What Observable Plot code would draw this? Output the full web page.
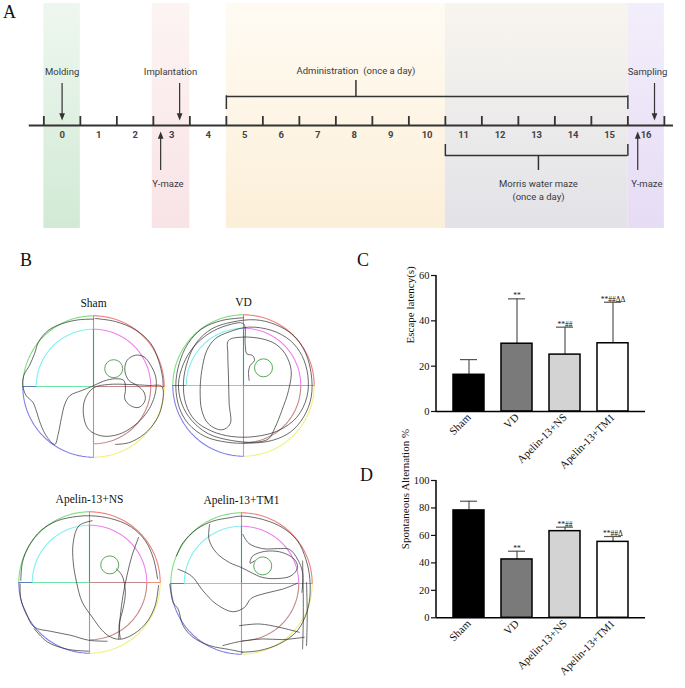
<!DOCTYPE html>
<html><head><meta charset="utf-8">
<script src="https://cdn.jsdelivr.net/npm/d3@7"></script>
<script src="https://cdn.jsdelivr.net/npm/@observablehq/plot@0.6"></script>
<style>
html,body{margin:0;padding:0;background:#fff;overflow:hidden;}
#fig{position:relative;width:685px;height:688px;overflow:hidden;}
.box{position:absolute;}
.box svg{max-width:none;}
.plabel{position:absolute;font-family:"Liberation Serif","Times New Roman",serif;font-size:18px;line-height:1;color:#111;}
</style></head><body><div id="fig"></div>
<script>
// ---------- Panel A data ----------
const days = [0,1,2,3,4,5,6,7,8,9,10,11,12,13,14,15,16];
const bands = [
  {id:"molding", start:-0.5, end:0.5},
  {id:"implant", start:2.47, end:3.5},
  {id:"admin", start:4.5, end:10.5},
  {id:"mwm", start:10.5, end:15.5},
  {id:"sampling", start:15.5, end:16.5}
];
const events = [
  {label:"Molding", labelDay:0, arrowDay:0, dir:"down"},
  {label:"Implantation", labelDay:2.97, arrowDay:3.22, dir:"down"},
  {label:"Sampling", labelDay:16.04, arrowDay:16.23, dir:"down"},
  {label:"Y-maze", labelDay:2.9, arrowDay:2.7, dir:"up"},
  {label:"Y-maze", labelDay:16.02, arrowDay:15.77, dir:"up"}
];
const brackets = [
  {label:"Administration  (once a day)", start:4.5, end:15.5, labelDay:8.05},
  {label:"Morris water maze\n(once a day)", start:10.5, end:15.5, labelDay:13.05}
];

// ---------- Panel B data (tracking coordinates, camera px) ----------
const poolNames = ["Sham","VD","Apelin-13+NS","Apelin-13+TM1"];
const poolCalib = [
  {cx:235, cy:228, r:210},
  {cx:235, cy:225, r:212},
  {cx:237, cy:231, r:213},
  {cx:236, cy:233, r:213}
];
const platforms = [[28.6,25.2],[28.3,25],[28.6,24.9],[30,24.9]];
const trackSham = [
  [[235,28],[190,30],[140,42],[100,62],[72,95],[60,130],[45,165],[28,195],[25,225],[35,255],[55,275],[65,300],[78,340],[95,375],[120,400],[130,370],[140,320],[150,280],[165,255],[200,240],[230,228],[265,212],[300,205],[325,210],[330,235],[328,265],[345,285],[370,290],[388,270],[385,245],[365,225],[340,210],[328,180],[335,150],[360,135],[385,140],[405,165],[420,200],[420,240],[410,275],[390,310],[355,345],[310,370],[260,375],[220,355],[205,310],[210,265],[235,232],[280,222],[340,222],[400,225],[438,228],[438,285],[420,330],[385,370],[340,395],[300,400]],
  [[240,26],[300,35],[360,60],[405,100],[428,150],[440,200],[442,230]]
];
const trackVD = [
  [[235,22],[170,30],[110,55],[68,100],[42,160],[32,225],[42,290],[70,340],[120,378],[185,395],[250,398],[320,390],[375,365],[415,320],[438,260],[438,190],[420,125],[385,75],[330,42],[270,28],[200,35],[140,55],[95,95],[68,150],[55,215],[62,280],[90,330],[140,362],[200,378],[270,378],[340,360],[395,320],[425,260],[428,195],[410,135],[375,90],[320,60],[250,50],[190,65],[150,85],[125,120],[110,180],[105,240],[110,300],[130,340],[170,358],[195,340],[192,280],[190,200],[188,130],[190,90],[230,80],[290,85],[330,100],[360,130],[378,180],[370,240],[350,300],[330,350],[310,385],[270,395],[200,390],[130,370],[80,330],[50,280],[40,220],[55,160],[85,110],[130,70],[185,45],[235,40],[240,100],[245,130],[262,135],[268,150],[255,165],[250,185],[252,210]]
];
const trackNS = [
  [[30,225],[35,170],[55,120],[90,75],[140,45],[200,32],[240,30],[300,38],[360,62],[405,105],[430,160],[442,220]],
  [[245,45],[205,60],[188,110],[188,170],[198,230],[215,290],[245,335],[275,375],[300,395],[330,402],[372,385],[410,350],[435,300],[445,240]],
  [[318,190],[335,210],[345,260],[338,310],[326,360],[330,400]],
  [[385,95],[365,150],[350,210],[338,270],[330,330],[325,400]],
  [[28,235],[30,280],[45,320],[70,365],[120,378],[180,390],[235,405],[290,408]],
  [[70,370],[110,410],[170,432],[235,438]]
];
const trackTM1 = [
  [[40,150],[60,110],[100,70],[150,45],[200,35],[237,30],[300,40],[360,65],[405,105],[430,160],[442,220],[440,290],[425,340],[400,380],[350,415],[290,435],[237,440]],
  [[140,55],[138,100],[160,140],[200,170],[236,185],[265,200],[300,215],[345,218],[385,210],[405,185],[395,160],[360,140],[320,135],[290,140],[268,152],[262,172],[275,165]],
  [[240,85],[258,112],[300,128],[345,128],[380,130],[405,160],[420,200],[418,260]],
  [[45,190],[85,210],[120,255],[160,295],[210,318],[245,305],[265,278],[310,262],[360,250],[405,232]],
  [[420,165],[422,260],[422,350],[420,430]],
  [[432,230],[434,330],[432,420]],
  [[230,360],[290,355],[350,365],[410,380]],
  [[180,420],[230,408],[300,400],[360,402],[425,395]],
  [[20,235],[30,290],[45,310],[60,360],[90,395],[140,420],[200,432],[240,440]]
];
const tracks = [trackSham, trackVD, trackNS, trackTM1];

// ---------- Panels C & D data ----------
const groups = ["Sham","VD","Apelin-13+NS","Apelin-13+TM1"];
const latencyMean = [16.2, 29.9, 25.1, 30.1];
const latencySD = [6.7, 19.8, 12.1, 18.1];
const latencySig = ["", "**", "**##", "**##ΔΔ"];
const altMean = [78.2, 42.5, 63.1, 55.3];
const altSD = [6.7, 6.0, 2.9, 3.9];
const altSig = ["", "**", "**##", "**##Δ"];
const latencyTicks = [0,20,40,60];
const altTicks = [0,20,40,60,80,100];

// ---------- styles ----------
const bandColors = {molding:["#eef7ef","#d2ead5"], implant:["#fdf4f4","#f8e3e6"], admin:["#fffbf3","#fcefd8"], mwm:["#f8f5ef","#e2e2e7"], sampling:["#f3eefb","#e6dcf4"]};
const barFill = ["#000000","#7a7a7a","#d3d3d3","#ffffff"];
const serif = '"Liberation Serif","Times New Roman",serif';
const fig = document.getElementById("fig");

function place(node, left, top, w) {
  const d = document.createElement("div");
  d.className = "box"; d.style.left = left + "px"; d.style.top = top + "px"; d.style.width = w + "px";
  d.appendChild(node); fig.appendChild(d);
}
function label(t, left, top) {
  const d = document.createElement("div");
  d.className = "plabel"; d.textContent = t; d.style.left = left + "px"; d.style.top = top + "px";
  fig.appendChild(d);
}

// ---------- Panel A ----------
const downTri = {draw(ctx, size){ const h = Math.sqrt(size/Math.PI); ctx.moveTo(-h*1.1,-h*1.4); ctx.lineTo(h*1.1,-h*1.4); ctx.lineTo(0,h*1.4); ctx.closePath(); }};
const upTri = {draw(ctx, size){ const h = Math.sqrt(size/Math.PI); ctx.moveTo(-h*1.1,h*1.4); ctx.lineTo(h*1.1,h*1.4); ctx.lineTo(0,-h*1.4); ctx.closePath(); }};
const defsMark = () => {
  const defs = d3.create("svg:defs");
  bands.forEach(b => {
    const g = defs.append("linearGradient").attr("id","band-"+b.id).attr("x1",0).attr("y1",0).attr("x2",0).attr("y2",1);
    g.append("stop").attr("offset","0%").attr("stop-color",bandColors[b.id][0]);
    g.append("stop").attr("offset","100%").attr("stop-color",bandColors[b.id][1]);
  });
  return defs.node();
};
const tickDays = [...days.map(d => d - 0.5), days[days.length-1] + 0.5];
const down = events.filter(e => e.dir === "down"), up = events.filter(e => e.dir === "up");
const admin = brackets[0], mwm = brackets[1];
const ink = "#333";
const A = Plot.plot({
  width:685, height:232, margin:0,
  x:{domain:[-1.6877, 17.079], axis:null},
  y:{domain:[232,0], axis:null},
  style:{background:"transparent", overflow:"visible", fontFamily:"Roboto, 'Liberation Sans', sans-serif", fontSize:"9.5px", color:"#3a3a3a"},
  marks:[
    defsMark,
    ...bands.map(b => Plot.rect([b], {x1:"start", x2:"end", y1:3, y2:228, fill:`url(#band-${b.id})`})),
    Plot.ruleY([0], {x1:-0.9, x2:16.75, y:125, stroke:ink, strokeWidth:2.2}),
    Plot.ruleX(tickDays, {x:d=>d, y1:116, y2:125, stroke:ink, strokeWidth:1.8}),
    Plot.text(days, {x:d=>d, y:134, text:d=>String(d), fontSize:9.5, fontWeight:700, fill:"#444"}),
    Plot.ruleX(down, {x:"arrowDay", y1:83, y2:115, stroke:ink, strokeWidth:1.2}),
    Plot.dot(down, {x:"arrowDay", y:116.4, symbol:downTri, r:2.6, fill:ink, stroke:null}),
    Plot.text(down, {x:"labelDay", y:71, text:"label", fill:"#3a3a3a"}),
    Plot.ruleX(up, {x:"arrowDay", y1:170, y2:136, stroke:ink, strokeWidth:1.2}),
    Plot.dot(up, {x:"arrowDay", y:134.6, symbol:upTri, r:2.6, fill:ink, stroke:null}),
    Plot.text(up, {x:"labelDay", y:183, text:"label", fill:"#3a3a3a"}),
    Plot.ruleY([admin], {x1:"start", x2:"end", y:96, stroke:ink, strokeWidth:1.5}),
    Plot.ruleX([admin.start, admin.end], {x:d=>d, y1:95.3, y2:109, stroke:ink, strokeWidth:1.5}),
    Plot.ruleX([admin], {x:"labelDay", y1:80, y2:96, stroke:ink, strokeWidth:1.5}),
    Plot.text([admin], {x:"labelDay", y:70, text:"label", fill:"#3a3a3a"}),
    Plot.ruleY([mwm], {x1:"start", x2:"end", y:155, stroke:ink, strokeWidth:1.5}),
    Plot.ruleX([mwm.start, mwm.end], {x:d=>d, y1:144, y2:155.7, stroke:ink, strokeWidth:1.5}),
    Plot.ruleX([mwm], {x:"labelDay", y1:155, y2:170, stroke:ink, strokeWidth:1.5}),
    Plot.text([mwm], {x:"labelDay", y:188.5, text:"label", lineHeight:1.35, fill:"#3a3a3a"})
  ]
});
place(A, 0, 0, 685);

// ---------- Panel B ----------
function arcPts(r, a0, a1) { const p = []; for (let a = a0; a <= a1 + 1e-9; a += 3) p.push([r*Math.cos(a*Math.PI/180), r*Math.sin(a*Math.PI/180)]); return p; }
const RIN = 81;
const ringMarks = [
  [100, 90, 180, "#80e080"], [100, 0, 90, "#f08080"], [100, 180, 270, "#8080ec"], [100, 270, 360, "#f0f080"],
  [RIN, 90, 180, "#80f0f0"], [RIN, 0, 90, "#f080f0"], [RIN, 270, 360, "#c48888"]
].map(([r,a0,a1,c]) => Plot.line(arcPts(r,a0,a1), {stroke:c, strokeWidth:1.1}));
const spokeMarks = [
  [[-100,0],[-RIN,0],"#5a80b8"], [[-RIN,0],[0,0],"#70e6a6"],
  [[0,0],[RIN,0],"#c48a8a"], [[RIN,0],[100,0],"#f0907c"],
  [[0,0],[0,RIN],"#2f9c8c"], [[0,RIN],[0,100],"#e08484"],
  [[0,0],[0,-RIN],"#c09090"], [[0,-RIN],[0,-100],"#a4a4d8"]
].map(([p,q,c]) => Plot.line([p,q], {stroke:c, strokeWidth:1.1}));
const poolCenters = [[93.3,386],[243.3,385],[89,582],[240.7,582.7]];
poolNames.forEach((name, i) => {
  const c = poolCalib[i];
  const pts = tracks[i].flatMap((seg, s) => seg.map(([px,py]) => ({x:(px-c.cx)/c.r*100, y:-(py-c.cy)/c.r*100, seg:s})));
  const P = Plot.plot({
    width:150, height:176, marginLeft:4.3, marginRight:4.3, marginTop:30.3, marginBottom:4.3,
    x:{domain:[-100,100], axis:null}, y:{domain:[-100,100], axis:null},
    style:{background:"transparent", overflow:"visible", fontFamily:serif},
    marks:[
      ...ringMarks, ...spokeMarks,
      Plot.dot([platforms[i]], {x:d=>d[0], y:d=>d[1], r:9, stroke:"#5aa85a", fill:"none", strokeWidth:1}),
      Plot.line(pts, {x:"x", y:"y", z:"seg", stroke:"#2b2b2b", strokeWidth:0.7, curve:"catmull-rom"}),
      Plot.text([name], {frameAnchor:"top", dy:-16.8, fontSize:11.5, fill:"#111"})
    ]
  });
  place(P, poolCenters[i][0] - 75, poolCenters[i][1] - 101, 150);
});

// ---------- Panels C & D ----------
function barChart(means, sds, sigs, domain, ticks, ylabel, labelDx, innerH) {
  const rows = groups.map((g,i) => ({group:g, mean:means[i], sd:sds[i], sig:sigs[i]}));
  const yLine = (index, scales, values, dims) => {
    const l = d3.create("svg:line");
    l.attr("x1", dims.marginLeft).attr("x2", dims.marginLeft)
     .attr("y1", dims.marginTop).attr("y2", dims.height - dims.marginBottom)
     .attr("stroke", "#000").attr("stroke-width", 1.5);
    return l.node();
  };
  return Plot.plot({
    width:300, height:20 + innerH + 70, marginLeft:86, marginRight:5, marginTop:20, marginBottom:70,
    x:{domain:groups, paddingInner:0.354, paddingOuter:0.34, label:null},
    y:{domain, label:null},
    color:{domain:groups, range:barFill},
    style:{background:"transparent", overflow:"visible", fontFamily:serif, fontSize:"11px", color:"#111"},
    marks:[
      Plot.ruleX(rows, {x:"group", y1:"mean", y2:d=>d.mean+d.sd, stroke:"#555", strokeWidth:1.2}),
      Plot.tickY(rows, {x:"group", y:d=>d.mean+d.sd, insetLeft:7, insetRight:7, stroke:"#555", strokeWidth:1.2}),
      Plot.barY(rows, {x:"group", y:"mean", fill:"group", stroke:"#000", strokeWidth:1.5}),
      Plot.text(rows, {x:"group", y:d=>d.mean+d.sd, text:"sig", dy:-0.5, lineAnchor:"bottom", fontSize:7.5, fill:"#111"}),
      Plot.ruleY([domain[0]], {stroke:"#000", strokeWidth:1.5}),
      yLine,
      Plot.axisY({ticks, tickSize:5, tickPadding:2, fontSize:10.5, label:null, strokeWidth:1.2}),
      Plot.axisX({tickRotate:-45, tickSize:0, tickPadding:4, fontSize:11, label:null}),
      Plot.text([ylabel], {frameAnchor:"left", rotate:-90, dx:labelDx, fontSize:11, fill:"#111"})
    ]
  });
}
place(barChart(latencyMean, latencySD, latencySig, [0,60], latencyTicks, "Escape latency(s)", -26, 136), 350, 255, 300);
place(barChart(altMean, altSD, altSig, [0,100], altTicks, "Spontaneous Alternation %", -31, 137.3), 350, 460, 300);

// ---------- panel letters ----------
label("A", 3, 2.5);
label("B", 20, 250.5);
label("C", 357, 250.5);
label("D", 360, 465.5);
</script></body></html>
